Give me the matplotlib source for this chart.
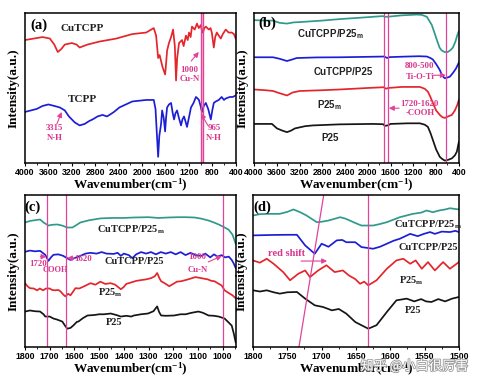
import numpy as np
import matplotlib
matplotlib.use("Agg")
import matplotlib.pyplot as plt
import matplotlib.patheffects as pe
from matplotlib.ticker import MultipleLocator

# ---------------- panel (a) : full range, CuTCPP / TCPP ----------------
a_cu_w = [4000, 3850, 3700, 3575, 3500, 3440, 3380, 3320, 3200, 3120, 3066, 3000, 2930,
          2727, 2440, 2166, 1930, 1800, 1760, 1725, 1700, 1650, 1606, 1590, 1572, 1540,
          1504, 1470, 1440, 1419, 1400, 1368, 1317, 1290, 1250, 1220, 1198, 1170, 1147,
          1100, 1062, 1030, 995, 975, 960, 935, 910, 860, 830, 808, 774, 750, 723, 690,
          655, 620, 570, 520, 468, 430, 400]
a_cu_i = [82, 83, 84, 83, 79, 74, 76, 79, 80, 79, 77, 78, 79,
          81, 83, 86, 87, 90, 85, 70, 72, 64, 59, 66, 75, 80,
          84, 89, 78, 55, 70, 80, 82, 78, 85, 82, 87, 84, 91,
          89, 93, 90, 92, 88, 87, 90, 91, 89, 90, 87, 77, 84, 87, 85,
          83, 86, 89, 87, 87, 86, 83]

a_tc_w = [4000, 3800, 3700, 3600, 3500, 3406, 3320, 3250, 3150, 3066, 2980, 2900, 2845,
          2760, 2676, 2600, 2557, 2480, 2387, 2166, 1930, 1800, 1770, 1745, 1725, 1705,
          1675, 1657, 1630, 1606, 1590, 1572, 1540, 1504, 1475, 1453, 1430, 1402, 1370,
          1334, 1310, 1283, 1260, 1232, 1200, 1164, 1120, 1079, 1050, 1028, 1000, 977,
          945, 910, 870, 825, 800, 774, 740, 689, 640, 600, 570, 500, 450, 400]
a_tc_i = [34, 36, 38, 39, 38, 37, 35, 31, 27, 25, 26, 28, 29,
          31, 32, 31, 32, 34, 37, 41, 42, 42, 36, 18, 4, 18,
          26, 35, 30, 21, 30, 37, 39, 40, 33, 29, 33, 35, 30,
          25, 29, 31, 28, 24, 30, 37, 40, 44, 43, 42, 38, 34,
          38, 40, 36, 29, 35, 40, 41, 42, 44, 42, 43, 44, 44, 45]

# ---------------- panel (b) : full range, four samples ----------------
b_teal_w = [4000, 3800, 3666, 3550, 3420, 3300, 3192, 2800, 2490, 2100, 1735, 1700, 1640,
            1400, 1137, 1050, 962, 875, 830, 786, 740, 701, 650, 595, 540, 505, 460, 430, 400]
b_teal_i = [95.3, 95, 95, 93.5, 93, 93.8, 94, 95, 96, 97, 98, 97.5, 97.6,
            98.5, 99, 98.8, 97.5, 92, 87, 82, 77, 75, 74, 74, 75.5, 77, 81, 85, 88]

b_blue_w = [4000, 3800, 3666, 3550, 3420, 3330, 3250, 2900, 2490, 2000, 1710, 1660, 1620,
            1300, 1100, 962, 900, 857, 800, 735, 690, 647, 600, 560, 505, 450, 400]
b_blue_i = [70.5, 70.5, 70.5, 69.5, 68, 69, 70, 70.4, 70.5, 70.8, 71, 70, 70.6,
            71, 71.2, 71, 70, 69, 66, 62, 58, 56.5, 57, 57.5, 60, 63, 67]

b_red_w = [4000, 3800, 3666, 3550, 3420, 3320, 3192, 2800, 2490, 2000, 1720, 1680, 1640,
           1400, 1085, 1000, 944, 900, 857, 800, 735, 690, 647, 590, 523, 470, 430, 400]
b_red_i = [49, 48.5, 48, 46.5, 45, 47, 48, 48.5, 49, 50, 50.5, 49.5, 50,
           50.7, 50.7, 49.5, 47.5, 44, 40, 35, 32, 30.5, 30, 31, 32, 35, 38.5, 42]

b_blk_w = [4000, 3800, 3684, 3640, 3596, 3500, 3420, 3350, 3280, 3100, 2963, 2500, 1910,
           1730, 1700, 1650, 1600, 1300, 1085, 1000, 944, 900, 857, 800, 735, 690, 647,
           590, 523, 470, 435, 400]
b_blk_i = [26, 26, 26, 24.5, 23, 21.5, 20.5, 21.5, 23, 24.5, 25, 25.7, 26,
           25.8, 24.7, 25, 26, 26.4, 26.4, 25.5, 24, 20, 15.3, 9, 4, 2.5, 1.5,
           2, 3, 5, 7.5, 14]

# ---------------- panel (c) : 1800-950 ----------------
c_teal_w = [1800, 1780, 1760, 1739, 1725, 1705, 1690, 1669, 1650, 1629, 1608, 1590, 1576,
            1540, 1494, 1450, 1400, 1359, 1300, 1260, 1220, 1180, 1150, 1114, 1085, 1057,
            1035, 1016, 995, 976, 960, 947]
c_teal_i = [82, 83, 83.5, 84, 82, 80, 80.5, 80.7, 80, 78.7, 78.7, 80.5, 82,
            83.5, 84.7, 85, 85, 85.3, 85.5, 85, 85.3, 85.5, 85.5, 85.3, 84.5, 83.3,
            82, 80.7, 79, 77.3, 74, 68]

c_blue_w = [1800, 1780, 1760, 1739, 1718, 1705, 1695, 1685, 1665, 1645, 1630, 1616, 1600,
            1576, 1555, 1535, 1510, 1490, 1470, 1441, 1425, 1412, 1400, 1380, 1365, 1350,
            1330, 1310, 1290, 1270, 1250, 1230, 1210, 1190, 1170, 1150, 1130, 1110, 1086,
            1070, 1050, 1035, 1020, 1004, 990, 975, 963, 955, 947]
c_blue_i = [62.7, 63.5, 63, 63.3, 60.7, 56.7, 59, 60.7, 61, 60, 58.5, 57.3, 58.5,
            60, 61.5, 62, 61.5, 62.5, 61.5, 61.3, 62, 60, 61.5, 60.5, 58.5, 61,
            62.5, 61.5, 62.5, 61, 62.5, 61.5, 62.5, 61, 62.5, 60.5, 62, 60.5, 60,
            61.5, 59, 61, 59.5, 60.5, 59, 59.5, 57.3, 55, 52]

c_red_w = [1800, 1790, 1780, 1765, 1751, 1740, 1727, 1715, 1700, 1690, 1678, 1665, 1657,
           1645, 1637, 1625, 1616, 1605, 1596, 1580, 1560, 1535, 1515, 1495, 1475, 1453,
           1435, 1412, 1400, 1390, 1370, 1350, 1331, 1310, 1290, 1275, 1265, 1255, 1249,
           1230, 1216, 1200, 1185, 1167, 1140, 1110, 1086, 1060, 1045, 1033, 1020, 1004,
           992, 975, 960, 947]
c_red_i = [42, 40, 38.7, 38.5, 37.3, 38.5, 37.3, 38.5, 38.5, 37.5, 37.3, 37.5, 36.7,
           34.5, 33.3, 35, 34, 36.5, 38.7, 38.5, 40, 42, 41, 43, 41.5, 42,
           41, 38, 39.5, 41.5, 42.5, 43.5, 44, 44.5, 45.3, 46.5, 48.7, 45, 43.3,
           41.5, 40, 41.5, 43, 43.3, 44.5, 46, 45.3, 44.5, 43.5, 43.3, 42, 40.5,
           37.3, 35.5, 34, 32]

c_blk_w = [1800, 1780, 1760, 1739, 1725, 1718, 1700, 1685, 1670, 1649, 1638, 1629, 1616,
           1605, 1590, 1584, 1565, 1547, 1520, 1500, 1480, 1453, 1430, 1412, 1390, 1370,
           1359, 1330, 1302, 1280, 1265, 1257, 1249, 1230, 1196, 1170, 1150, 1125, 1098,
           1080, 1057, 1035, 1016, 992, 975, 963, 955, 947]
c_blk_i = [23.3, 24, 23.5, 23.3, 21.5, 20, 20, 18.7, 18, 16.7, 14, 12, 12.5,
           14, 16.5, 16.7, 19, 20.7, 21, 21.5, 21.5, 22, 21, 20, 20.5, 20,
           20.7, 21.5, 22, 23.5, 26.7, 23, 20.7, 20.5, 20.7, 21.5, 21.5, 22.5, 23.3,
           22.5, 20.7, 20.5, 20, 18.7, 16, 14, 9, 3]

# ---------------- panel (d) : 1800-1500 ----------------
d_teal_w = [1800, 1790, 1780, 1761, 1750, 1741, 1730, 1722, 1707, 1700, 1690, 1673, 1665,
            1659, 1650, 1642, 1625, 1615, 1605, 1586, 1567, 1555, 1547, 1538, 1528, 1520,
            1513, 1500]
d_teal_i = [86.6, 87.5, 87.7, 87.7, 89, 90.6, 88.5, 86.6, 82.2, 82.5, 83.3, 85.5, 84.5,
            83.3, 81.5, 80, 80, 81, 82.2, 85.5, 87.7, 88.5, 89.9, 88.8, 90, 90.6,
            91.4, 90.6]

d_blue_w = [1800, 1770, 1750, 1736, 1724, 1710, 1700, 1690, 1678, 1670, 1664, 1651, 1642,
            1625, 1615, 1605, 1595, 1586, 1578, 1571, 1560, 1551, 1542, 1535, 1525, 1513,
            1505, 1500]
d_blue_i = [73.5, 73.8, 73.9, 73.9, 66.9, 61.4, 68, 66, 70.2, 70.5, 69, 69, 65.8,
            64.7, 66, 68, 70, 71.3, 73, 74.5, 73, 74.5, 75.7, 74.5, 76, 75.7,
            76.5, 75.7]

d_red_w = [1800, 1790, 1780, 1770, 1756, 1746, 1734, 1724, 1717, 1705, 1693, 1681, 1669,
           1660, 1651, 1644, 1638, 1632, 1620, 1605, 1591, 1581, 1571, 1563, 1554, 1545,
           1535, 1523, 1513, 1500]
d_red_i = [57, 55.5, 58.1, 54.8, 49.3, 43.9, 48.2, 50.4, 46, 50.4, 53.8, 49.3, 50.4,
           47, 44.7, 41.6, 43, 40.6, 43.9, 51.5, 57, 58.1, 54.8, 57, 51.5, 55.9,
           50.4, 55.9, 51.5, 55.9]

d_blk_w = [1800, 1790, 1780, 1770, 1761, 1750, 1736, 1724, 1710, 1698, 1685, 1675, 1664,
           1651, 1642, 1632, 1620, 1605, 1591, 1576, 1565, 1555, 1548, 1540, 1530, 1520,
           1510, 1500]
d_blk_i = [37.3, 36.5, 37.3, 36, 35.1, 36, 36.2, 31.8, 27.4, 26.3, 24.1, 25, 21.9,
           16.4, 14.3, 12, 14.3, 23, 30.7, 31.8, 30, 31.5, 30, 29.6, 31.5, 30,
           31.8, 32.9]

RED = "#e3262b"
BLUE = "#1c1ed6"
TEAL = "#2f9a8c"
BLACK = "#151515"
PINK = "#e0439a"
PTXT = "#d9358c"

SERIF = "Liberation Serif"
SANS = "Liberation Sans"
LW = 1.25

plt.rcParams["font.family"] = SERIF
plt.rcParams["font.weight"] = "bold"
plt.rcParams["mathtext.default"] = "regular"

fig = plt.figure(figsize=(4.81, 3.85), dpi=100)
ax_a = fig.add_axes([0.052, 0.577, 0.438, 0.389])
ax_b = fig.add_axes([0.528, 0.577, 0.426, 0.389])
ax_c = fig.add_axes([0.052, 0.099, 0.438, 0.394])
ax_d = fig.add_axes([0.526, 0.099, 0.428, 0.394])


def style(ax, xlim, major, minor):
    ax.set_xlim(*xlim)
    ax.set_ylim(0, 100)
    ax.set_yticks([])
    ax.xaxis.set_major_locator(MultipleLocator(major))
    ax.xaxis.set_minor_locator(MultipleLocator(minor))
    ax.tick_params(axis="x", which="major", direction="out", length=2.5, width=0.8,
                   pad=1.5, labelsize=6.3)
    ax.tick_params(axis="x", which="minor", direction="out", length=1.5, width=0.6)
    for lab in ax.get_xticklabels():
        lab.set_fontfamily(SANS)
        lab.set_fontweight("bold")
    for s in ax.spines.values():
        s.set_linewidth(1.1)
    ax.set_xlabel("Wavenumber(cm$^{-1}$)", fontsize=9.5, fontweight="bold", labelpad=0)
    ax.set_ylabel("Intensity(a.u.)", fontsize=9.5, fontweight="bold", labelpad=4)


def arrow(ax, xy, xytext):
    ax.annotate("", xy=xy, xytext=xytext,
                arrowprops=dict(arrowstyle="-|>,head_length=0.3,head_width=0.15",
                                color=PINK, lw=0.8, shrinkA=0, shrinkB=0))


def ptext(ax, x, y, s, size=6.3):
    ax.text(x, y, s, color=PTXT, fontsize=size, fontweight="bold", ha="center",
            va="center", linespacing=1.3)


# ---- (a)
style(ax_a, (4000, 400), 400, 200)
ax_a.plot(a_cu_w, a_cu_i, color=RED, lw=LW)
ax_a.plot(a_tc_w, a_tc_i, color=BLUE, lw=LW)
ax_a.axvspan(965, 1000, color="#f6c3dc", lw=0)
ax_a.axvline(1000, color=PINK, lw=1.0)
ax_a.axvline(965, color=PINK, lw=1.0)
ax_a.text(3770, 92, "(a)", fontsize=10.5, fontweight="bold", ha="center", va="center")
ax_a.text(3020, 90, "CuTCPP", fontsize=8, fontweight="bold", ha="center", va="center",
          color="#222222")
ax_a.text(3020, 42, "TCPP", fontsize=8, fontweight="bold", ha="center", va="center",
          color="#222222")
ptext(ax_a, 3490, 20, "3315\nN-H")
arrow(ax_a, (3375, 34), (3455, 26))
ptext(ax_a, 1190, 59, "1000\nCu-N")
arrow(ax_a, (1030, 74), (1160, 68))
ptext(ax_a, 770, 20, "965\nN-H")
arrow(ax_a, (995, 33), (875, 25))

# ---- (b)
style(ax_b, (4000, 400), 400, 200)
ax_b.plot(b_teal_w, b_teal_i, color=TEAL, lw=LW)
ax_b.plot(b_blue_w, b_blue_i, color=BLUE, lw=LW)
ax_b.plot(b_red_w, b_red_i, color=RED, lw=LW)
ax_b.plot(b_blk_w, b_blk_i, color=BLACK, lw=LW)
for w in (1712, 1642, 618):
    ax_b.axvline(w, color=PINK, lw=0.9)
ax_b.text(3770, 93, "(b)", fontsize=10.5, fontweight="bold", ha="center", va="center")
for x, y, s in [(2665, 86, "CuTCPP/P25$_m$"), (2440, 60.5, "CuTCPP/P25"),
                (2665, 38.5, "P25$_m$"), (2665, 16.5, "P25")]:
    ax_b.text(x, y, s, fontsize=7, fontweight="bold", family=SANS, ha="center",
              va="center", color="#222222")
ptext(ax_b, 1085, 64.5, "800-500")
ptext(ax_b, 1085, 57, "Ti-O-Ti")
arrow(ax_b, (630, 58.5), (870, 58.5))
ptext(ax_b, 1085, 39.5, "1720-1620")
ptext(ax_b, 1085, 33, "-COOH")
arrow(ax_b, (1630, 36.5), (1450, 36.5))

# ---- (c)
style(ax_c, (1800, 947), 100, 50)
ax_c.plot(c_teal_w, c_teal_i, color=TEAL, lw=LW)
ax_c.plot(c_blue_w, c_blue_i, color=BLUE, lw=LW)
ax_c.plot(c_red_w, c_red_i, color=RED, lw=LW)
ax_c.plot(c_blk_w, c_blk_i, color=BLACK, lw=LW)
for w in (1710, 1633, 1000):
    ax_c.axvline(w, color=PINK, lw=0.9)
ax_c.text(1771, 92, "(c)", fontsize=10.5, fontweight="bold", ha="center", va="center")
for x, y, s in [(1371, 77.5, "CuTCPP/P25$_m$"), (1359, 56.5, "CuTCPP/P25"),
                (1453, 36, "P25$_m$"), (1441, 16, "P25")]:
    ax_c.text(x, y, s, fontsize=7.5, fontweight="bold", ha="center", va="center",
              color="#222222")
ptext(ax_c, 1748, 54.5, "1720")
arrow(ax_c, (1713, 59.5), (1738, 59.5))
ptext(ax_c, 1565, 58, "1620")
arrow(ax_c, (1630, 58.5), (1598, 58.5))
ptext(ax_c, 1676, 50.5, "COOH", size=6)
ptext(ax_c, 1102, 59, "1000")
ptext(ax_c, 1100, 51, "Cu-N")
arrow(ax_c, (1003, 60), (1058, 56))

# ---- (d)
style(ax_d, (1800, 1500), 50, 25)
ax_d.plot(d_teal_w, d_teal_i, color=TEAL, lw=LW)
ax_d.plot(d_blue_w, d_blue_i, color=BLUE, lw=LW)
ax_d.plot(d_red_w, d_red_i, color=RED, lw=LW)
ax_d.plot(d_blk_w, d_blk_i, color=BLACK, lw=LW)
ax_d.axvline(1633, color=PINK, lw=0.9)
ax_d.plot([1733, 1697], [0, 100], color=PINK, lw=0.9)
ax_d.text(1787, 92, "(d)", fontsize=10.5, fontweight="bold", ha="center", va="center")
for x, y, s in [(1545, 80.5, "CuTCPP/P25$_m$"), (1545, 65.5, "CuTCPP/P25"),
                (1569, 43.5, "P25$_m$"), (1567, 24, "P25")]:
    ax_d.text(x, y, s, fontsize=7.5, fontweight="bold", ha="center", va="center",
              color="#222222")
ptext(ax_d, 1751, 61.5, "red shift", size=7.5)
arrow(ax_d, (1692, 56.6), (1730, 56.6))

# watermark
fig.text(0.862, 0.05, "知乎 @小白很厉害", fontsize=9.5, color="white", ha="center",
         va="center", family=["Noto Sans CJK SC", "DejaVu Sans"], fontweight="normal",
         path_effects=[pe.withStroke(linewidth=1.2, foreground="#9a9a9a")])

fig.savefig("out.png", dpi=100)
